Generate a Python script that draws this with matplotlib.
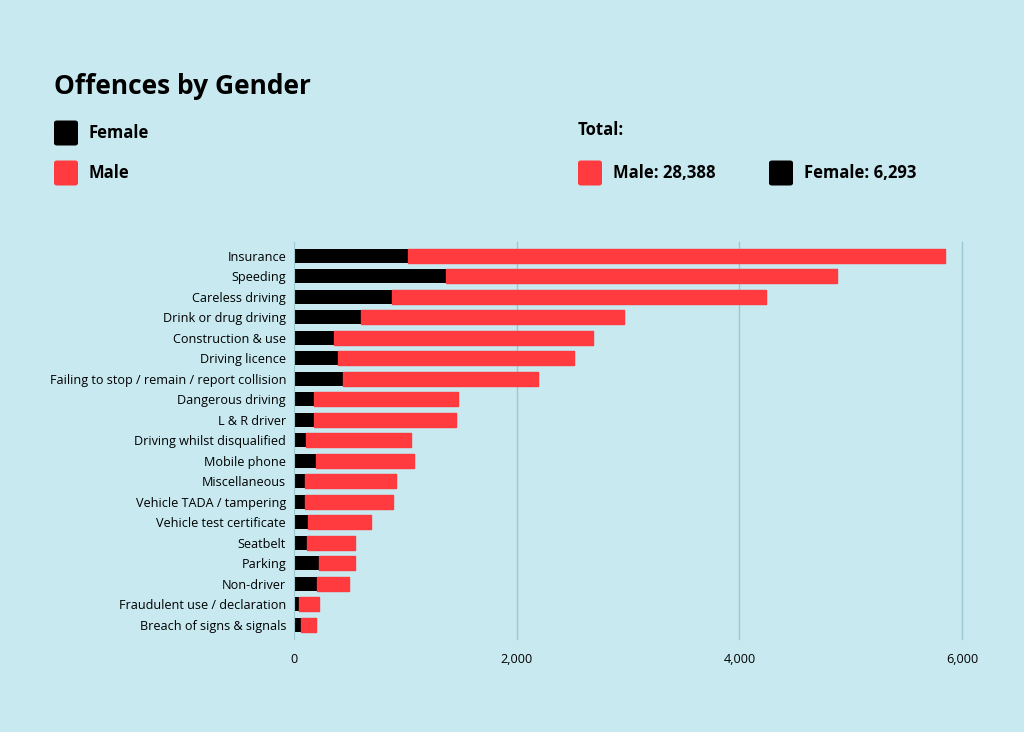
import matplotlib.pyplot as plt
from matplotlib.patches import FancyBboxPatch

plt.rcParams['font.family'] = ['Open Sans', 'DejaVu Sans']

offences = ['Insurance', 'Speeding', 'Careless driving', 'Drink or drug driving',
            'Construction & use', 'Driving licence',
            'Failing to stop / remain / report collision', 'Dangerous driving',
            'L & R driver', 'Driving whilst disqualified', 'Mobile phone',
            'Miscellaneous', 'Vehicle TADA / tampering', 'Vehicle test certificate',
            'Seatbelt', 'Parking', 'Non-driver', 'Fraudulent use / declaration',
            'Breach of signs & signals']
female = [1020, 1360, 876, 595, 355, 391, 439, 179, 179, 107, 194, 95, 95, 122, 113, 221, 200, 44, 57]
male = [4828, 3515, 3362, 2367, 2331, 2125, 1754, 1295, 1274, 945, 879, 822, 789, 568, 430, 322, 290, 180, 137]
total_male = '28,388'
total_female = '6,293'
xticks = [0, 2000, 4000, 6000]

bg = '#c8e9f0'
red = '#ff3b3f'
black = '#000000'
grid_c = '#9cc8cf'

fig = plt.figure(figsize=(10.24, 7.32), dpi=100, facecolor=bg)
ax = fig.add_axes([0.2875, 0.127, 0.652, 0.543], facecolor=bg)

y = list(range(len(offences)))
ax.barh(y, female, height=0.68, color=black, zorder=3)
ax.barh(y, male, left=female, height=0.68, color=red, zorder=3,
        edgecolor=red, linewidth=1.0, joinstyle='round')

ax.set_xlim(0, 6000)
ax.set_ylim(len(offences) - 0.3, -0.7)
ax.set_yticks(y)
ax.set_yticklabels(offences, fontsize=9.1)
ax.set_xticks(xticks)
ax.set_xticklabels([f'{v:,}' for v in xticks], fontsize=9.1)
ax.tick_params(axis='y', length=0, pad=6)
ax.tick_params(axis='x', length=0, pad=10)
for s in ['top', 'right', 'bottom']:
    ax.spines[s].set_visible(False)
ax.spines['left'].set_color(grid_c)
ax.spines['left'].set_zorder(4)
for v in xticks[1:]:
    ax.axvline(v, color=grid_c, linewidth=1, zorder=1, clip_on=False)

fig.text(54 / 1024, 1 - 86 / 732, 'Offences by Gender', fontsize=19, fontweight='bold',
         va='center', ha='left')


def legend_box(x, yc, color, label):
    w, h = 24 / 1024, 25 / 732
    fig.patches.append(FancyBboxPatch((x / 1024, 1 - yc / 732 - h / 2), w, h,
                                      boxstyle='round,pad=0,rounding_size=0.003',
                                      transform=fig.transFigure, facecolor=color,
                                      edgecolor='none'))
    fig.text((x + 35) / 1024, 1 - yc / 732, label, fontsize=12, fontweight='bold',
             va='center', ha='left')


legend_box(54, 133, black, 'Female')
legend_box(54, 173, red, 'Male')
fig.text(578 / 1024, 1 - 130 / 732, 'Total:', fontsize=12, fontweight='bold',
         va='center', ha='left')
legend_box(578, 173, red, f'Male: {total_male}')
legend_box(769, 173, black, f'Female: {total_female}')

fig.savefig('out.png', dpi=100, facecolor=bg)
